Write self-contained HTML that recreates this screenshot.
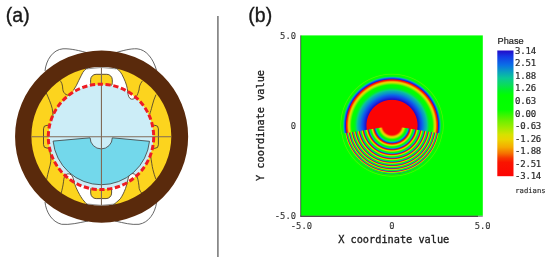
<!DOCTYPE html>
<html><head><meta charset="utf-8"><style>
html,body{margin:0;padding:0;background:#fff;width:550px;height:266px;overflow:hidden}
svg{display:block}
.sans{font-family:"Liberation Sans",Arial,sans-serif}
.mono{font-family:"DejaVu Sans Mono","Liberation Mono",monospace}
</style></head><body>
<svg width="550" height="266" viewBox="0 0 550 266">
<defs><radialGradient id="gU" gradientUnits="userSpaceOnUse" cx="392.00" cy="125.40" r="52.60"><stop offset="0.0000" stop-color="#fc0404"/><stop offset="0.4772" stop-color="#fc0404"/><stop offset="0.4791" stop-color="#e4051a"/><stop offset="0.4810" stop-color="#cc0530"/><stop offset="0.4829" stop-color="#b40646"/><stop offset="0.4848" stop-color="#9b075c"/><stop offset="0.4867" stop-color="#830972"/><stop offset="0.4886" stop-color="#6b0a88"/><stop offset="0.4905" stop-color="#520c9e"/><stop offset="0.4924" stop-color="#3a0db5"/><stop offset="0.4943" stop-color="#220fcb"/><stop offset="0.4962" stop-color="#2110cc"/><stop offset="0.4981" stop-color="#2112cd"/><stop offset="0.5000" stop-color="#2013ce"/><stop offset="0.5019" stop-color="#2015cf"/><stop offset="0.5038" stop-color="#1f17d0"/><stop offset="0.5057" stop-color="#1f19d1"/><stop offset="0.5076" stop-color="#1e1ad2"/><stop offset="0.5095" stop-color="#1d1cd3"/><stop offset="0.5114" stop-color="#1d1fd4"/><stop offset="0.5133" stop-color="#1c21d6"/><stop offset="0.5152" stop-color="#1c23d7"/><stop offset="0.5171" stop-color="#1b25d8"/><stop offset="0.5190" stop-color="#1a27d9"/><stop offset="0.5209" stop-color="#1a29db"/><stop offset="0.5228" stop-color="#192bdc"/><stop offset="0.5247" stop-color="#182ddd"/><stop offset="0.5266" stop-color="#182fde"/><stop offset="0.5285" stop-color="#1731e0"/><stop offset="0.5304" stop-color="#1734e1"/><stop offset="0.5323" stop-color="#1636e2"/><stop offset="0.5342" stop-color="#1538e3"/><stop offset="0.5361" stop-color="#153ae4"/><stop offset="0.5380" stop-color="#143ce5"/><stop offset="0.5399" stop-color="#143ee5"/><stop offset="0.5418" stop-color="#1340e6"/><stop offset="0.5437" stop-color="#1342e6"/><stop offset="0.5456" stop-color="#1244e6"/><stop offset="0.5475" stop-color="#1246e6"/><stop offset="0.5494" stop-color="#1248e6"/><stop offset="0.5513" stop-color="#114ae6"/><stop offset="0.5532" stop-color="#114ce6"/><stop offset="0.5551" stop-color="#104ee6"/><stop offset="0.5570" stop-color="#1050e6"/><stop offset="0.5589" stop-color="#1052e6"/><stop offset="0.5608" stop-color="#0f54e6"/><stop offset="0.5627" stop-color="#0f56e6"/><stop offset="0.5646" stop-color="#0e58e6"/><stop offset="0.5665" stop-color="#0e5ae6"/><stop offset="0.5684" stop-color="#0e5ce6"/><stop offset="0.5703" stop-color="#0d5ee6"/><stop offset="0.5722" stop-color="#0d60e6"/><stop offset="0.5741" stop-color="#0c62e6"/><stop offset="0.5760" stop-color="#0c64e6"/><stop offset="0.5779" stop-color="#0b67e6"/><stop offset="0.5798" stop-color="#0b69e6"/><stop offset="0.5817" stop-color="#0b6be5"/><stop offset="0.5837" stop-color="#0b6de5"/><stop offset="0.5856" stop-color="#0a6fe4"/><stop offset="0.5875" stop-color="#0a72e3"/><stop offset="0.5894" stop-color="#0a74e1"/><stop offset="0.5913" stop-color="#0a76e0"/><stop offset="0.5932" stop-color="#0a78de"/><stop offset="0.5951" stop-color="#0a7bdc"/><stop offset="0.5970" stop-color="#0a7dda"/><stop offset="0.5989" stop-color="#0a7fd8"/><stop offset="0.6008" stop-color="#0a82d6"/><stop offset="0.6027" stop-color="#0a84d4"/><stop offset="0.6046" stop-color="#0a87d2"/><stop offset="0.6065" stop-color="#0a89d0"/><stop offset="0.6084" stop-color="#0a8bcf"/><stop offset="0.6103" stop-color="#0a8dcd"/><stop offset="0.6122" stop-color="#0a8fcb"/><stop offset="0.6141" stop-color="#0a91ca"/><stop offset="0.6160" stop-color="#0a93c8"/><stop offset="0.6179" stop-color="#0a95c7"/><stop offset="0.6198" stop-color="#0a97c5"/><stop offset="0.6217" stop-color="#0a99c4"/><stop offset="0.6236" stop-color="#0a9bc2"/><stop offset="0.6255" stop-color="#0a9cc1"/><stop offset="0.6274" stop-color="#0a9ebf"/><stop offset="0.6293" stop-color="#0aa0be"/><stop offset="0.6312" stop-color="#0aa1bc"/><stop offset="0.6331" stop-color="#0aa3bb"/><stop offset="0.6350" stop-color="#0aa5b9"/><stop offset="0.6369" stop-color="#0aa6b8"/><stop offset="0.6388" stop-color="#0aa8b6"/><stop offset="0.6407" stop-color="#0aaab4"/><stop offset="0.6426" stop-color="#0aabb3"/><stop offset="0.6445" stop-color="#0aadb1"/><stop offset="0.6464" stop-color="#0aaeb0"/><stop offset="0.6483" stop-color="#0ab0ae"/><stop offset="0.6502" stop-color="#0ab2ac"/><stop offset="0.6521" stop-color="#0ab3ab"/><stop offset="0.6540" stop-color="#0ab6a8"/><stop offset="0.6559" stop-color="#0ab8a6"/><stop offset="0.6578" stop-color="#0abba3"/><stop offset="0.6597" stop-color="#0abda0"/><stop offset="0.6616" stop-color="#0ac09c"/><stop offset="0.6635" stop-color="#0ac398"/><stop offset="0.6654" stop-color="#0ac693"/><stop offset="0.6673" stop-color="#0ac98e"/><stop offset="0.6692" stop-color="#0acb89"/><stop offset="0.6711" stop-color="#0ace83"/><stop offset="0.6730" stop-color="#0ad07e"/><stop offset="0.6749" stop-color="#0ad278"/><stop offset="0.6768" stop-color="#0ad472"/><stop offset="0.6787" stop-color="#0ad66d"/><stop offset="0.6806" stop-color="#0ad867"/><stop offset="0.6825" stop-color="#09da61"/><stop offset="0.6844" stop-color="#09dc5a"/><stop offset="0.6863" stop-color="#08df54"/><stop offset="0.6882" stop-color="#07e14e"/><stop offset="0.6901" stop-color="#06e349"/><stop offset="0.6920" stop-color="#05e543"/><stop offset="0.6939" stop-color="#04e73e"/><stop offset="0.6958" stop-color="#03e939"/><stop offset="0.6977" stop-color="#02eb34"/><stop offset="0.6996" stop-color="#02ed30"/><stop offset="0.7015" stop-color="#01ee2c"/><stop offset="0.7034" stop-color="#01ef29"/><stop offset="0.7053" stop-color="#00f125"/><stop offset="0.7072" stop-color="#00f222"/><stop offset="0.7091" stop-color="#00f31f"/><stop offset="0.7110" stop-color="#00f41c"/><stop offset="0.7129" stop-color="#00f619"/><stop offset="0.7148" stop-color="#00f716"/><stop offset="0.7167" stop-color="#00f813"/><stop offset="0.7186" stop-color="#00f910"/><stop offset="0.7205" stop-color="#00fa0d"/><stop offset="0.7224" stop-color="#00fb0a"/><stop offset="0.7243" stop-color="#00fc08"/><stop offset="0.7262" stop-color="#00fd06"/><stop offset="0.7281" stop-color="#00fe04"/><stop offset="0.7300" stop-color="#00fe02"/><stop offset="0.7319" stop-color="#00ff01"/><stop offset="0.7338" stop-color="#00ff01"/><stop offset="0.7357" stop-color="#01ff00"/><stop offset="0.7414" stop-color="#01ff00"/><stop offset="0.7433" stop-color="#02ff00"/><stop offset="0.7490" stop-color="#02ff00"/><stop offset="0.7510" stop-color="#03ff00"/><stop offset="0.7567" stop-color="#03ff00"/><stop offset="0.7586" stop-color="#04ff00"/><stop offset="0.7624" stop-color="#04ff00"/><stop offset="0.7643" stop-color="#06ff00"/><stop offset="0.7662" stop-color="#08fe00"/><stop offset="0.7681" stop-color="#0cfe00"/><stop offset="0.7700" stop-color="#11fd00"/><stop offset="0.7719" stop-color="#17fc00"/><stop offset="0.7738" stop-color="#1efb00"/><stop offset="0.7757" stop-color="#26fa00"/><stop offset="0.7776" stop-color="#2ff800"/><stop offset="0.7795" stop-color="#3af700"/><stop offset="0.7814" stop-color="#44f500"/><stop offset="0.7833" stop-color="#4ef400"/><stop offset="0.7852" stop-color="#58f200"/><stop offset="0.7871" stop-color="#61f100"/><stop offset="0.7890" stop-color="#6af000"/><stop offset="0.7909" stop-color="#73ef00"/><stop offset="0.7928" stop-color="#7bee00"/><stop offset="0.7947" stop-color="#84ed00"/><stop offset="0.7966" stop-color="#8cec00"/><stop offset="0.7985" stop-color="#94ec00"/><stop offset="0.8004" stop-color="#9ceb00"/><stop offset="0.8023" stop-color="#a4e900"/><stop offset="0.8042" stop-color="#ace800"/><stop offset="0.8061" stop-color="#b5e700"/><stop offset="0.8080" stop-color="#bde500"/><stop offset="0.8099" stop-color="#c5e400"/><stop offset="0.8118" stop-color="#cce200"/><stop offset="0.8137" stop-color="#d3df00"/><stop offset="0.8156" stop-color="#d9dd00"/><stop offset="0.8175" stop-color="#deda00"/><stop offset="0.8194" stop-color="#e3d600"/><stop offset="0.8213" stop-color="#e7d200"/><stop offset="0.8232" stop-color="#eacd00"/><stop offset="0.8251" stop-color="#ecc800"/><stop offset="0.8270" stop-color="#efc200"/><stop offset="0.8289" stop-color="#f0bc00"/><stop offset="0.8308" stop-color="#f2b500"/><stop offset="0.8327" stop-color="#f3ad00"/><stop offset="0.8346" stop-color="#f3a400"/><stop offset="0.8365" stop-color="#f49b00"/><stop offset="0.8384" stop-color="#f59100"/><stop offset="0.8403" stop-color="#f58700"/><stop offset="0.8422" stop-color="#f57b00"/><stop offset="0.8441" stop-color="#f56e00"/><stop offset="0.8460" stop-color="#f56200"/><stop offset="0.8479" stop-color="#f65600"/><stop offset="0.8498" stop-color="#f64a00"/><stop offset="0.8517" stop-color="#f73e00"/><stop offset="0.8536" stop-color="#f73400"/><stop offset="0.8555" stop-color="#f82b00"/><stop offset="0.8574" stop-color="#f92300"/><stop offset="0.8593" stop-color="#f91c00"/><stop offset="0.8612" stop-color="#fa1701"/><stop offset="0.8631" stop-color="#fa1301"/><stop offset="0.8650" stop-color="#fb1001"/><stop offset="0.8669" stop-color="#fb0d02"/><stop offset="0.8688" stop-color="#e30c18"/><stop offset="0.8707" stop-color="#cb0c2f"/><stop offset="0.8726" stop-color="#b30c46"/><stop offset="0.8745" stop-color="#9a0e5d"/><stop offset="0.8764" stop-color="#811075"/><stop offset="0.8783" stop-color="#68148d"/><stop offset="0.8802" stop-color="#4f18a5"/><stop offset="0.8821" stop-color="#351dbe"/><stop offset="0.8840" stop-color="#1b23d7"/><stop offset="0.8859" stop-color="#1a2ada"/><stop offset="0.8878" stop-color="#1830dd"/><stop offset="0.8897" stop-color="#1637e0"/><stop offset="0.8916" stop-color="#143ee2"/><stop offset="0.8935" stop-color="#1346e4"/><stop offset="0.8954" stop-color="#114ee5"/><stop offset="0.8973" stop-color="#0f56e5"/><stop offset="0.8992" stop-color="#0e5ee3"/><stop offset="0.9011" stop-color="#0d67e1"/><stop offset="0.9030" stop-color="#0c70dd"/><stop offset="0.9049" stop-color="#0b79d9"/><stop offset="0.9068" stop-color="#0b83d3"/><stop offset="0.9087" stop-color="#0a8dcb"/><stop offset="0.9106" stop-color="#0a98c3"/><stop offset="0.9125" stop-color="#0aa2b8"/><stop offset="0.9144" stop-color="#0aadad"/><stop offset="0.9163" stop-color="#0ab6a0"/><stop offset="0.9183" stop-color="#0ac092"/><stop offset="0.9202" stop-color="#09c983"/><stop offset="0.9221" stop-color="#08d172"/><stop offset="0.9240" stop-color="#07da61"/><stop offset="0.9259" stop-color="#06e051"/><stop offset="0.9278" stop-color="#05e642"/><stop offset="0.9297" stop-color="#04eb34"/><stop offset="0.9316" stop-color="#02f028"/><stop offset="0.9335" stop-color="#01f41d"/><stop offset="0.9354" stop-color="#00f714"/><stop offset="0.9373" stop-color="#00fa0e"/><stop offset="0.9392" stop-color="#00fc09"/><stop offset="0.9411" stop-color="#00fd06"/><stop offset="0.9430" stop-color="#00fe04"/><stop offset="0.9449" stop-color="#00fe02"/><stop offset="0.9468" stop-color="#01ff01"/><stop offset="0.9487" stop-color="#01ff00"/><stop offset="0.9525" stop-color="#01ff00"/><stop offset="0.9544" stop-color="#02ff00"/><stop offset="0.9563" stop-color="#02ff00"/><stop offset="0.9582" stop-color="#05ff00"/><stop offset="0.9601" stop-color="#09fe00"/><stop offset="0.9620" stop-color="#11fd00"/><stop offset="0.9639" stop-color="#1bfb00"/><stop offset="0.9658" stop-color="#26fa00"/><stop offset="0.9677" stop-color="#30f800"/><stop offset="0.9696" stop-color="#38f700"/><stop offset="0.9715" stop-color="#3ef600"/><stop offset="0.9734" stop-color="#41f600"/><stop offset="0.9753" stop-color="#40f600"/><stop offset="0.9772" stop-color="#3bf700"/><stop offset="0.9791" stop-color="#34f800"/><stop offset="0.9810" stop-color="#2bf900"/><stop offset="0.9829" stop-color="#1ffb00"/><stop offset="0.9848" stop-color="#15fc00"/><stop offset="0.9867" stop-color="#0dfe00"/><stop offset="0.9886" stop-color="#07fe00"/><stop offset="0.9905" stop-color="#04ff00"/><stop offset="0.9924" stop-color="#03ff00"/><stop offset="0.9943" stop-color="#02ff00"/><stop offset="1.0000" stop-color="#02ff00"/></radialGradient><radialGradient id="gL" gradientUnits="userSpaceOnUse" cx="392.00" cy="125.40" r="50.50"><stop offset="0.0000" stop-color="#fc0404"/><stop offset="0.1774" stop-color="#fc0404"/><stop offset="0.1790" stop-color="#fc0604"/><stop offset="0.1806" stop-color="#fc0803"/><stop offset="0.1822" stop-color="#fb0a03"/><stop offset="0.1838" stop-color="#fb0b03"/><stop offset="0.1853" stop-color="#fb0f02"/><stop offset="0.1869" stop-color="#fa1302"/><stop offset="0.1885" stop-color="#fa1701"/><stop offset="0.1901" stop-color="#f91d01"/><stop offset="0.1917" stop-color="#f92101"/><stop offset="0.1933" stop-color="#f82800"/><stop offset="0.1949" stop-color="#f73000"/><stop offset="0.1964" stop-color="#f73700"/><stop offset="0.1980" stop-color="#f63f00"/><stop offset="0.1996" stop-color="#f64700"/><stop offset="0.2012" stop-color="#f65000"/><stop offset="0.2028" stop-color="#f65800"/><stop offset="0.2044" stop-color="#f56100"/><stop offset="0.2059" stop-color="#f56900"/><stop offset="0.2075" stop-color="#f57200"/><stop offset="0.2091" stop-color="#f57b00"/><stop offset="0.2107" stop-color="#f58300"/><stop offset="0.2123" stop-color="#f58b00"/><stop offset="0.2139" stop-color="#f59300"/><stop offset="0.2154" stop-color="#f49a00"/><stop offset="0.2170" stop-color="#f4a100"/><stop offset="0.2186" stop-color="#f3a700"/><stop offset="0.2202" stop-color="#f3ae00"/><stop offset="0.2218" stop-color="#f2b400"/><stop offset="0.2234" stop-color="#f1b900"/><stop offset="0.2250" stop-color="#f0bf00"/><stop offset="0.2265" stop-color="#eec300"/><stop offset="0.2281" stop-color="#ecc800"/><stop offset="0.2297" stop-color="#eacc00"/><stop offset="0.2313" stop-color="#e8cf00"/><stop offset="0.2329" stop-color="#e5d300"/><stop offset="0.2345" stop-color="#e2d600"/><stop offset="0.2360" stop-color="#deda00"/><stop offset="0.2376" stop-color="#dadc00"/><stop offset="0.2392" stop-color="#d5de00"/><stop offset="0.2408" stop-color="#cfe000"/><stop offset="0.2424" stop-color="#c9e200"/><stop offset="0.2440" stop-color="#c3e400"/><stop offset="0.2455" stop-color="#bce500"/><stop offset="0.2471" stop-color="#b5e700"/><stop offset="0.2487" stop-color="#aee800"/><stop offset="0.2503" stop-color="#a6e900"/><stop offset="0.2519" stop-color="#9fea00"/><stop offset="0.2535" stop-color="#97eb00"/><stop offset="0.2550" stop-color="#90ec00"/><stop offset="0.2566" stop-color="#88ed00"/><stop offset="0.2582" stop-color="#80ee00"/><stop offset="0.2598" stop-color="#78ee00"/><stop offset="0.2614" stop-color="#70f000"/><stop offset="0.2630" stop-color="#68f100"/><stop offset="0.2646" stop-color="#5ff100"/><stop offset="0.2661" stop-color="#56f300"/><stop offset="0.2677" stop-color="#4df400"/><stop offset="0.2693" stop-color="#43f500"/><stop offset="0.2709" stop-color="#3af700"/><stop offset="0.2725" stop-color="#31f800"/><stop offset="0.2741" stop-color="#28fa00"/><stop offset="0.2756" stop-color="#21fa00"/><stop offset="0.2772" stop-color="#1afc00"/><stop offset="0.2788" stop-color="#14fd00"/><stop offset="0.2804" stop-color="#0ffd00"/><stop offset="0.2820" stop-color="#0bfe00"/><stop offset="0.2836" stop-color="#07fe00"/><stop offset="0.2851" stop-color="#05ff00"/><stop offset="0.2867" stop-color="#03ff00"/><stop offset="0.2883" stop-color="#03ff00"/><stop offset="0.2899" stop-color="#02ff00"/><stop offset="0.2915" stop-color="#02ff00"/><stop offset="0.2931" stop-color="#02ff01"/><stop offset="0.2947" stop-color="#01fe03"/><stop offset="0.2962" stop-color="#01fd06"/><stop offset="0.2978" stop-color="#01fb09"/><stop offset="0.2994" stop-color="#01fa0e"/><stop offset="0.3010" stop-color="#01f813"/><stop offset="0.3026" stop-color="#02f51a"/><stop offset="0.3042" stop-color="#02f222"/><stop offset="0.3057" stop-color="#03ef2b"/><stop offset="0.3073" stop-color="#04eb35"/><stop offset="0.3089" stop-color="#05e73f"/><stop offset="0.3105" stop-color="#06e34a"/><stop offset="0.3121" stop-color="#06de55"/><stop offset="0.3137" stop-color="#08db60"/><stop offset="0.3152" stop-color="#08d66b"/><stop offset="0.3168" stop-color="#09d176"/><stop offset="0.3184" stop-color="#0acc81"/><stop offset="0.3200" stop-color="#0ac68b"/><stop offset="0.3216" stop-color="#0ac094"/><stop offset="0.3232" stop-color="#0aba9d"/><stop offset="0.3248" stop-color="#0ab3a6"/><stop offset="0.3263" stop-color="#0aacaf"/><stop offset="0.3279" stop-color="#0aa4b7"/><stop offset="0.3295" stop-color="#0a9cc0"/><stop offset="0.3311" stop-color="#0a93c6"/><stop offset="0.3327" stop-color="#0a8acd"/><stop offset="0.3343" stop-color="#0b81d2"/><stop offset="0.3358" stop-color="#0c78d7"/><stop offset="0.3374" stop-color="#0c70dc"/><stop offset="0.3390" stop-color="#0d67df"/><stop offset="0.3406" stop-color="#0e5ee1"/><stop offset="0.3422" stop-color="#1055e2"/><stop offset="0.3438" stop-color="#124ce1"/><stop offset="0.3453" stop-color="#1442e0"/><stop offset="0.3469" stop-color="#2e39c8"/><stop offset="0.3485" stop-color="#4830af"/><stop offset="0.3501" stop-color="#4a29ac"/><stop offset="0.3517" stop-color="#642294"/><stop offset="0.3533" stop-color="#7e1c7b"/><stop offset="0.3549" stop-color="#971762"/><stop offset="0.3564" stop-color="#b1124a"/><stop offset="0.3580" stop-color="#b21047"/><stop offset="0.3596" stop-color="#ca0e30"/><stop offset="0.3612" stop-color="#e30d18"/><stop offset="0.3628" stop-color="#fb0e02"/><stop offset="0.3644" stop-color="#fa1101"/><stop offset="0.3659" stop-color="#fa1501"/><stop offset="0.3675" stop-color="#f91b01"/><stop offset="0.3691" stop-color="#f92101"/><stop offset="0.3707" stop-color="#f82a00"/><stop offset="0.3723" stop-color="#f83400"/><stop offset="0.3739" stop-color="#f73f00"/><stop offset="0.3754" stop-color="#f74b00"/><stop offset="0.3770" stop-color="#f65800"/><stop offset="0.3786" stop-color="#f66600"/><stop offset="0.3802" stop-color="#f57400"/><stop offset="0.3818" stop-color="#f48200"/><stop offset="0.3834" stop-color="#f48f00"/><stop offset="0.3850" stop-color="#f39c00"/><stop offset="0.3865" stop-color="#f1a800"/><stop offset="0.3881" stop-color="#efb200"/><stop offset="0.3897" stop-color="#edbb00"/><stop offset="0.3913" stop-color="#eac400"/><stop offset="0.3929" stop-color="#e5cb00"/><stop offset="0.3945" stop-color="#e0d100"/><stop offset="0.3960" stop-color="#d9d600"/><stop offset="0.3976" stop-color="#d2db00"/><stop offset="0.3992" stop-color="#cadf00"/><stop offset="0.4008" stop-color="#c1e200"/><stop offset="0.4024" stop-color="#b6e500"/><stop offset="0.4040" stop-color="#ace700"/><stop offset="0.4055" stop-color="#a0e900"/><stop offset="0.4071" stop-color="#94eb00"/><stop offset="0.4087" stop-color="#87ed00"/><stop offset="0.4103" stop-color="#7aee00"/><stop offset="0.4119" stop-color="#6df000"/><stop offset="0.4135" stop-color="#5ff200"/><stop offset="0.4150" stop-color="#51f400"/><stop offset="0.4166" stop-color="#45f500"/><stop offset="0.4182" stop-color="#39f700"/><stop offset="0.4198" stop-color="#2ef900"/><stop offset="0.4214" stop-color="#24fa00"/><stop offset="0.4230" stop-color="#1bfb00"/><stop offset="0.4246" stop-color="#14fd00"/><stop offset="0.4261" stop-color="#0dfd00"/><stop offset="0.4277" stop-color="#08fe00"/><stop offset="0.4293" stop-color="#05fe00"/><stop offset="0.4309" stop-color="#02fe02"/><stop offset="0.4325" stop-color="#02fd05"/><stop offset="0.4341" stop-color="#01fb0a"/><stop offset="0.4356" stop-color="#02f910"/><stop offset="0.4372" stop-color="#02f617"/><stop offset="0.4388" stop-color="#03f320"/><stop offset="0.4404" stop-color="#04ef2a"/><stop offset="0.4420" stop-color="#04eb36"/><stop offset="0.4436" stop-color="#05e643"/><stop offset="0.4451" stop-color="#06e051"/><stop offset="0.4467" stop-color="#07da5f"/><stop offset="0.4483" stop-color="#08d36e"/><stop offset="0.4499" stop-color="#09cb7d"/><stop offset="0.4515" stop-color="#09c38b"/><stop offset="0.4531" stop-color="#0aba98"/><stop offset="0.4547" stop-color="#0ab0a5"/><stop offset="0.4562" stop-color="#0aa6b1"/><stop offset="0.4578" stop-color="#0a9cbc"/><stop offset="0.4594" stop-color="#0b90c5"/><stop offset="0.4610" stop-color="#0c85cc"/><stop offset="0.4626" stop-color="#0c79d3"/><stop offset="0.4642" stop-color="#0e6dd8"/><stop offset="0.4657" stop-color="#0f60db"/><stop offset="0.4673" stop-color="#1153dc"/><stop offset="0.4689" stop-color="#2c46c6"/><stop offset="0.4705" stop-color="#463baf"/><stop offset="0.4721" stop-color="#4832ad"/><stop offset="0.4737" stop-color="#632995"/><stop offset="0.4752" stop-color="#7c227c"/><stop offset="0.4768" stop-color="#961b64"/><stop offset="0.4784" stop-color="#b0164b"/><stop offset="0.4800" stop-color="#b11347"/><stop offset="0.4816" stop-color="#ca122f"/><stop offset="0.4832" stop-color="#e21418"/><stop offset="0.4848" stop-color="#fa1901"/><stop offset="0.4863" stop-color="#f92201"/><stop offset="0.4879" stop-color="#f82d01"/><stop offset="0.4895" stop-color="#f83800"/><stop offset="0.4911" stop-color="#f74600"/><stop offset="0.4927" stop-color="#f75500"/><stop offset="0.4943" stop-color="#f66400"/><stop offset="0.4958" stop-color="#f57400"/><stop offset="0.4974" stop-color="#f48400"/><stop offset="0.4990" stop-color="#f29400"/><stop offset="0.5006" stop-color="#f0a300"/><stop offset="0.5022" stop-color="#edb100"/><stop offset="0.5038" stop-color="#e8bd00"/><stop offset="0.5053" stop-color="#e2c600"/><stop offset="0.5069" stop-color="#dbcf00"/><stop offset="0.5085" stop-color="#d2d600"/><stop offset="0.5101" stop-color="#c9dc00"/><stop offset="0.5117" stop-color="#bee000"/><stop offset="0.5133" stop-color="#b1e400"/><stop offset="0.5149" stop-color="#a4e700"/><stop offset="0.5164" stop-color="#95ea00"/><stop offset="0.5180" stop-color="#85ed00"/><stop offset="0.5196" stop-color="#75ef00"/><stop offset="0.5212" stop-color="#63f200"/><stop offset="0.5228" stop-color="#54f400"/><stop offset="0.5244" stop-color="#45f600"/><stop offset="0.5259" stop-color="#38f700"/><stop offset="0.5275" stop-color="#2cf900"/><stop offset="0.5291" stop-color="#21fb00"/><stop offset="0.5307" stop-color="#18fc00"/><stop offset="0.5323" stop-color="#10fd00"/><stop offset="0.5339" stop-color="#0afd02"/><stop offset="0.5354" stop-color="#05fd05"/><stop offset="0.5370" stop-color="#03fb0a"/><stop offset="0.5386" stop-color="#02f911"/><stop offset="0.5402" stop-color="#03f519"/><stop offset="0.5418" stop-color="#03f124"/><stop offset="0.5434" stop-color="#04ed30"/><stop offset="0.5450" stop-color="#05e83d"/><stop offset="0.5465" stop-color="#05e24c"/><stop offset="0.5481" stop-color="#06da5c"/><stop offset="0.5497" stop-color="#07d16d"/><stop offset="0.5513" stop-color="#08c77e"/><stop offset="0.5529" stop-color="#09bc8f"/><stop offset="0.5545" stop-color="#0ab19f"/><stop offset="0.5560" stop-color="#0aa5ad"/><stop offset="0.5576" stop-color="#0b99b9"/><stop offset="0.5592" stop-color="#0c8cc4"/><stop offset="0.5608" stop-color="#0d7ecd"/><stop offset="0.5624" stop-color="#0e6fd3"/><stop offset="0.5640" stop-color="#1060d6"/><stop offset="0.5655" stop-color="#2b51c2"/><stop offset="0.5671" stop-color="#4543ad"/><stop offset="0.5687" stop-color="#5f3797"/><stop offset="0.5703" stop-color="#612e95"/><stop offset="0.5719" stop-color="#7c267d"/><stop offset="0.5735" stop-color="#961e64"/><stop offset="0.5750" stop-color="#af194b"/><stop offset="0.5766" stop-color="#c81732"/><stop offset="0.5782" stop-color="#c91a2f"/><stop offset="0.5798" stop-color="#e12018"/><stop offset="0.5814" stop-color="#f92901"/><stop offset="0.5830" stop-color="#f83601"/><stop offset="0.5846" stop-color="#f84500"/><stop offset="0.5861" stop-color="#f75400"/><stop offset="0.5877" stop-color="#f66400"/><stop offset="0.5893" stop-color="#f47600"/><stop offset="0.5909" stop-color="#f28700"/><stop offset="0.5925" stop-color="#ef9900"/><stop offset="0.5941" stop-color="#eba900"/><stop offset="0.5956" stop-color="#e6b800"/><stop offset="0.5972" stop-color="#dfc400"/><stop offset="0.5988" stop-color="#d6ce00"/><stop offset="0.6004" stop-color="#cbd600"/><stop offset="0.6020" stop-color="#bfdd00"/><stop offset="0.6036" stop-color="#b2e200"/><stop offset="0.6051" stop-color="#a2e700"/><stop offset="0.6067" stop-color="#92ea00"/><stop offset="0.6083" stop-color="#7fee00"/><stop offset="0.6099" stop-color="#6bf000"/><stop offset="0.6115" stop-color="#5af300"/><stop offset="0.6131" stop-color="#49f500"/><stop offset="0.6147" stop-color="#3bf700"/><stop offset="0.6162" stop-color="#2ef900"/><stop offset="0.6178" stop-color="#22fa00"/><stop offset="0.6194" stop-color="#18fc01"/><stop offset="0.6210" stop-color="#0ffc03"/><stop offset="0.6226" stop-color="#09fb07"/><stop offset="0.6242" stop-color="#05f90e"/><stop offset="0.6257" stop-color="#03f616"/><stop offset="0.6273" stop-color="#04f221"/><stop offset="0.6289" stop-color="#04ee2d"/><stop offset="0.6305" stop-color="#05e83b"/><stop offset="0.6321" stop-color="#05e14b"/><stop offset="0.6337" stop-color="#06d95c"/><stop offset="0.6352" stop-color="#07ce6e"/><stop offset="0.6368" stop-color="#08c381"/><stop offset="0.6384" stop-color="#09b694"/><stop offset="0.6400" stop-color="#0aa9a5"/><stop offset="0.6416" stop-color="#0b9bb3"/><stop offset="0.6432" stop-color="#0c8dc0"/><stop offset="0.6448" stop-color="#0d7dc9"/><stop offset="0.6463" stop-color="#106ccf"/><stop offset="0.6479" stop-color="#2a5bbd"/><stop offset="0.6495" stop-color="#444caa"/><stop offset="0.6511" stop-color="#5f3e95"/><stop offset="0.6527" stop-color="#613394"/><stop offset="0.6543" stop-color="#7b2a7d"/><stop offset="0.6558" stop-color="#952264"/><stop offset="0.6574" stop-color="#ae1e4b"/><stop offset="0.6590" stop-color="#c81d33"/><stop offset="0.6606" stop-color="#c8232f"/><stop offset="0.6622" stop-color="#e12a18"/><stop offset="0.6638" stop-color="#f83701"/><stop offset="0.6653" stop-color="#f84601"/><stop offset="0.6669" stop-color="#f75700"/><stop offset="0.6685" stop-color="#f56900"/><stop offset="0.6701" stop-color="#f37a00"/><stop offset="0.6717" stop-color="#f08d00"/><stop offset="0.6733" stop-color="#eb9f00"/><stop offset="0.6749" stop-color="#e5b000"/><stop offset="0.6764" stop-color="#ddbf00"/><stop offset="0.6780" stop-color="#d3cb00"/><stop offset="0.6796" stop-color="#c7d500"/><stop offset="0.6812" stop-color="#badc00"/><stop offset="0.6828" stop-color="#aae300"/><stop offset="0.6844" stop-color="#98e800"/><stop offset="0.6859" stop-color="#85ec00"/><stop offset="0.6875" stop-color="#70f000"/><stop offset="0.6891" stop-color="#5df300"/><stop offset="0.6907" stop-color="#4bf500"/><stop offset="0.6923" stop-color="#3bf700"/><stop offset="0.6939" stop-color="#2ef900"/><stop offset="0.6954" stop-color="#21fa01"/><stop offset="0.6970" stop-color="#17fb03"/><stop offset="0.6986" stop-color="#0efa08"/><stop offset="0.7002" stop-color="#08f80f"/><stop offset="0.7018" stop-color="#05f519"/><stop offset="0.7034" stop-color="#04f125"/><stop offset="0.7050" stop-color="#05ec32"/><stop offset="0.7065" stop-color="#05e542"/><stop offset="0.7081" stop-color="#06dc53"/><stop offset="0.7097" stop-color="#06d265"/><stop offset="0.7113" stop-color="#07c679"/><stop offset="0.7129" stop-color="#08b88d"/><stop offset="0.7145" stop-color="#0aaaa0"/><stop offset="0.7160" stop-color="#0b9ab0"/><stop offset="0.7176" stop-color="#0d8abd"/><stop offset="0.7192" stop-color="#0f79c6"/><stop offset="0.7208" stop-color="#2967b7"/><stop offset="0.7224" stop-color="#4356a5"/><stop offset="0.7240" stop-color="#4647a8"/><stop offset="0.7255" stop-color="#603a93"/><stop offset="0.7271" stop-color="#7a2f7d"/><stop offset="0.7287" stop-color="#942765"/><stop offset="0.7303" stop-color="#ad234c"/><stop offset="0.7319" stop-color="#af2449"/><stop offset="0.7335" stop-color="#c82930"/><stop offset="0.7350" stop-color="#e03318"/><stop offset="0.7366" stop-color="#f84001"/><stop offset="0.7382" stop-color="#f75101"/><stop offset="0.7398" stop-color="#f56300"/><stop offset="0.7414" stop-color="#f37500"/><stop offset="0.7430" stop-color="#ef8900"/><stop offset="0.7446" stop-color="#e99b00"/><stop offset="0.7461" stop-color="#e2ae00"/><stop offset="0.7477" stop-color="#d8be00"/><stop offset="0.7493" stop-color="#cdcb00"/><stop offset="0.7509" stop-color="#c0d600"/><stop offset="0.7525" stop-color="#b0de00"/><stop offset="0.7541" stop-color="#9ee500"/><stop offset="0.7556" stop-color="#89ea00"/><stop offset="0.7572" stop-color="#75ef00"/><stop offset="0.7588" stop-color="#61f200"/><stop offset="0.7604" stop-color="#4ef500"/><stop offset="0.7620" stop-color="#3cf700"/><stop offset="0.7636" stop-color="#2ef900"/><stop offset="0.7651" stop-color="#21fa02"/><stop offset="0.7667" stop-color="#17f907"/><stop offset="0.7683" stop-color="#0ef80e"/><stop offset="0.7699" stop-color="#08f518"/><stop offset="0.7715" stop-color="#05f124"/><stop offset="0.7731" stop-color="#05ec32"/><stop offset="0.7747" stop-color="#05e443"/><stop offset="0.7762" stop-color="#06db54"/><stop offset="0.7778" stop-color="#06d067"/><stop offset="0.7794" stop-color="#07c27b"/><stop offset="0.7810" stop-color="#09b390"/><stop offset="0.7826" stop-color="#0aa3a3"/><stop offset="0.7842" stop-color="#0c92b2"/><stop offset="0.7857" stop-color="#0e80be"/><stop offset="0.7873" stop-color="#296db1"/><stop offset="0.7889" stop-color="#435ba2"/><stop offset="0.7905" stop-color="#454ba5"/><stop offset="0.7921" stop-color="#5f3e91"/><stop offset="0.7937" stop-color="#7a327c"/><stop offset="0.7952" stop-color="#932a65"/><stop offset="0.7968" stop-color="#ad284c"/><stop offset="0.7984" stop-color="#ae2b49"/><stop offset="0.8000" stop-color="#c73230"/><stop offset="0.8016" stop-color="#e03d18"/><stop offset="0.8032" stop-color="#f74c01"/><stop offset="0.8048" stop-color="#f65e01"/><stop offset="0.8063" stop-color="#f37100"/><stop offset="0.8079" stop-color="#ef8400"/><stop offset="0.8095" stop-color="#e89700"/><stop offset="0.8111" stop-color="#e0ab00"/><stop offset="0.8127" stop-color="#d5bc00"/><stop offset="0.8143" stop-color="#c9ca00"/><stop offset="0.8158" stop-color="#b9d600"/><stop offset="0.8174" stop-color="#a8df00"/><stop offset="0.8190" stop-color="#93e600"/><stop offset="0.8206" stop-color="#7eec00"/><stop offset="0.8222" stop-color="#6af000"/><stop offset="0.8238" stop-color="#55f300"/><stop offset="0.8253" stop-color="#43f600"/><stop offset="0.8269" stop-color="#33f800"/><stop offset="0.8285" stop-color="#25f903"/><stop offset="0.8301" stop-color="#19f809"/><stop offset="0.8317" stop-color="#10f612"/><stop offset="0.8333" stop-color="#0af31d"/><stop offset="0.8349" stop-color="#06ef2b"/><stop offset="0.8364" stop-color="#05e83a"/><stop offset="0.8380" stop-color="#05df4b"/><stop offset="0.8396" stop-color="#06d45f"/><stop offset="0.8412" stop-color="#07c673"/><stop offset="0.8428" stop-color="#08b887"/><stop offset="0.8444" stop-color="#0aa79b"/><stop offset="0.8459" stop-color="#0c95ac"/><stop offset="0.8475" stop-color="#0f81ba"/><stop offset="0.8491" stop-color="#296eae"/><stop offset="0.8507" stop-color="#435c9f"/><stop offset="0.8523" stop-color="#5e4c8d"/><stop offset="0.8539" stop-color="#603d90"/><stop offset="0.8554" stop-color="#7a337b"/><stop offset="0.8570" stop-color="#932e64"/><stop offset="0.8586" stop-color="#ad2e4b"/><stop offset="0.8602" stop-color="#c63232"/><stop offset="0.8618" stop-color="#c73c2f"/><stop offset="0.8634" stop-color="#df4a17"/><stop offset="0.8650" stop-color="#f65b01"/><stop offset="0.8665" stop-color="#f36e00"/><stop offset="0.8681" stop-color="#ee8100"/><stop offset="0.8697" stop-color="#e79500"/><stop offset="0.8713" stop-color="#dda900"/><stop offset="0.8729" stop-color="#d2bb00"/><stop offset="0.8745" stop-color="#c3ca00"/><stop offset="0.8760" stop-color="#b3d700"/><stop offset="0.8776" stop-color="#9fe100"/><stop offset="0.8792" stop-color="#8ae800"/><stop offset="0.8808" stop-color="#74ee00"/><stop offset="0.8824" stop-color="#60f200"/><stop offset="0.8840" stop-color="#4cf500"/><stop offset="0.8855" stop-color="#3af701"/><stop offset="0.8871" stop-color="#2bf804"/><stop offset="0.8887" stop-color="#1df70a"/><stop offset="0.8903" stop-color="#14f514"/><stop offset="0.8919" stop-color="#0cf220"/><stop offset="0.8935" stop-color="#07ed2e"/><stop offset="0.8950" stop-color="#05e53e"/><stop offset="0.8966" stop-color="#06db51"/><stop offset="0.8982" stop-color="#06cf65"/><stop offset="0.8998" stop-color="#07c079"/><stop offset="0.9014" stop-color="#09b08d"/><stop offset="0.9030" stop-color="#0b9da1"/><stop offset="0.9046" stop-color="#0e89b1"/><stop offset="0.9061" stop-color="#2975a7"/><stop offset="0.9077" stop-color="#43639a"/><stop offset="0.9093" stop-color="#5d518a"/><stop offset="0.9109" stop-color="#5f428e"/><stop offset="0.9125" stop-color="#79377a"/><stop offset="0.9141" stop-color="#933264"/><stop offset="0.9156" stop-color="#ac324c"/><stop offset="0.9172" stop-color="#c63733"/><stop offset="0.9188" stop-color="#c74230"/><stop offset="0.9204" stop-color="#de5017"/><stop offset="0.9220" stop-color="#f46101"/><stop offset="0.9236" stop-color="#f07500"/><stop offset="0.9251" stop-color="#ea8800"/><stop offset="0.9267" stop-color="#e19c00"/><stop offset="0.9283" stop-color="#d5b000"/><stop offset="0.9299" stop-color="#c7c200"/><stop offset="0.9315" stop-color="#b7d100"/><stop offset="0.9331" stop-color="#a3dd00"/><stop offset="0.9347" stop-color="#8de600"/><stop offset="0.9362" stop-color="#77ec00"/><stop offset="0.9378" stop-color="#62f100"/><stop offset="0.9394" stop-color="#4ff400"/><stop offset="0.9410" stop-color="#3cf601"/><stop offset="0.9426" stop-color="#2bf705"/><stop offset="0.9442" stop-color="#1ef70b"/><stop offset="0.9457" stop-color="#14f514"/><stop offset="0.9473" stop-color="#0cf21f"/><stop offset="0.9489" stop-color="#07ed2b"/><stop offset="0.9505" stop-color="#04e737"/><stop offset="0.9521" stop-color="#05df45"/><stop offset="0.9537" stop-color="#05d553"/><stop offset="0.9552" stop-color="#06cb60"/><stop offset="0.9568" stop-color="#07bf6c"/><stop offset="0.9584" stop-color="#09b476"/><stop offset="0.9600" stop-color="#18a870"/><stop offset="0.9616" stop-color="#269f68"/><stop offset="0.9632" stop-color="#33985d"/><stop offset="0.9648" stop-color="#32925d"/><stop offset="0.9663" stop-color="#3e8f4f"/><stop offset="0.9679" stop-color="#499040"/><stop offset="0.9695" stop-color="#539430"/><stop offset="0.9711" stop-color="#5e9b20"/><stop offset="0.9727" stop-color="#59a31c"/><stop offset="0.9743" stop-color="#60ad0e"/><stop offset="0.9758" stop-color="#67b900"/><stop offset="0.9774" stop-color="#5ec400"/><stop offset="0.9790" stop-color="#56d000"/><stop offset="0.9806" stop-color="#4cda00"/><stop offset="0.9822" stop-color="#43e400"/><stop offset="0.9838" stop-color="#3aec00"/><stop offset="0.9853" stop-color="#31f200"/><stop offset="0.9869" stop-color="#28f600"/><stop offset="0.9885" stop-color="#20f900"/><stop offset="0.9901" stop-color="#19fb00"/><stop offset="0.9917" stop-color="#13fc00"/><stop offset="0.9933" stop-color="#0dfd00"/><stop offset="0.9949" stop-color="#09fe00"/><stop offset="0.9964" stop-color="#05fe00"/><stop offset="0.9980" stop-color="#03ff00"/><stop offset="0.9996" stop-color="#01ff00"/></radialGradient><radialGradient id="gO" gradientUnits="userSpaceOnUse" cx="392.00" cy="125.40" r="53.00"><stop offset="0.0000" stop-color="#02ff00"/><stop offset="0.9377" stop-color="#02ff00"/><stop offset="0.9396" stop-color="#03ff00"/><stop offset="0.9415" stop-color="#03ff00"/><stop offset="0.9434" stop-color="#06ff00"/><stop offset="0.9453" stop-color="#0bfe00"/><stop offset="0.9472" stop-color="#13fd00"/><stop offset="0.9491" stop-color="#1cfb00"/><stop offset="0.9509" stop-color="#28f900"/><stop offset="0.9528" stop-color="#32f800"/><stop offset="0.9547" stop-color="#39f700"/><stop offset="0.9566" stop-color="#3ef600"/><stop offset="0.9585" stop-color="#41f500"/><stop offset="0.9604" stop-color="#3ef600"/><stop offset="0.9623" stop-color="#39f700"/><stop offset="0.9642" stop-color="#32f800"/><stop offset="0.9660" stop-color="#28f900"/><stop offset="0.9679" stop-color="#1cfb00"/><stop offset="0.9698" stop-color="#13fd00"/><stop offset="0.9717" stop-color="#0bfe00"/><stop offset="0.9736" stop-color="#06ff00"/><stop offset="0.9755" stop-color="#03ff00"/><stop offset="0.9774" stop-color="#03ff00"/><stop offset="0.9792" stop-color="#02ff00"/><stop offset="1.0000" stop-color="#02ff00"/></radialGradient><filter id="fb" x="-10%" y="-10%" width="120%" height="120%"><feGaussianBlur stdDeviation="0.35"/></filter><linearGradient id="gCB" x1="0" y1="0" x2="0" y2="1"><stop offset="0.000" stop-color="#230ac8"/><stop offset="0.050" stop-color="#143ce6"/><stop offset="0.115" stop-color="#0a6ee6"/><stop offset="0.170" stop-color="#0aa0be"/><stop offset="0.220" stop-color="#0ac896"/><stop offset="0.275" stop-color="#0adc5a"/><stop offset="0.315" stop-color="#00f028"/><stop offset="0.355" stop-color="#00ff00"/><stop offset="0.470" stop-color="#05ff00"/><stop offset="0.550" stop-color="#64f000"/><stop offset="0.615" stop-color="#a0eb00"/><stop offset="0.670" stop-color="#d7e100"/><stop offset="0.710" stop-color="#ebd400"/><stop offset="0.770" stop-color="#f5aa00"/><stop offset="0.820" stop-color="#f56e00"/><stop offset="0.855" stop-color="#f63700"/><stop offset="0.890" stop-color="#fa1400"/><stop offset="1.000" stop-color="#fc0404"/></linearGradient>
<clipPath id="cIn"><circle cx="101" cy="136.9" r="52.4"/></clipPath>
</defs>
<rect width="550" height="266" fill="#fff"/>
<!-- ===== panel (a) ===== -->
<text class="sans" x="5.8" y="22.2" font-size="19.5" fill="#1a1a1a" stroke="#1a1a1a" stroke-width="0.35">(a)</text>
<g fill="none" stroke="#555" stroke-width="0.9">
<path d="M45,71 C46,60 53,49.5 63,48.8 C71,48.5 79,50.5 90,53.5"/>
<path d="M113,53.5 C123,50.5 130,48.5 137,48.8 C146,49.5 153,58 156.6,70.5"/>
<path d="M45,202 C46,212 52,222 61.6,224.3 C70,225 78,223 88,221"/>
<path d="M115,221 C124,223 131,225 139,224.3 C149,222.5 155,213 156.6,202.5"/>
</g>
<ellipse cx="101.4" cy="136.3" rx="70.6" ry="69.9" fill="#fcd41e"/>
<!-- white regions -->
<path fill="#fff" d="M88.5,60 L114.5,60 L114.5,67.6 C117.5,68.6 120,71 122,74.5 C124.5,79.5 126.5,84 127.3,88.6 L128,100 L75,100 L73.3,90.5 C75.5,87.5 77.2,84 78.6,80.8 L81.4,75.2 C83,71.5 85.5,68.6 88.5,67.6 Z"/>
<path fill="#fff" d="M72,176.8 C73,178 73.3,178 73.8,180.9 C75,185.5 77,190 79.6,194.6 C81,197 82.5,199.5 84,201 C85.5,203 86.8,204 88,205 L88,212 L113,212 L113,205.3 C115,203.5 118,201 120.3,198.8 C122.5,195.5 124,192.5 125.5,188.5 C126.5,185.5 127.4,182.5 128,179 L120,170 L80,170 Z"/>
<!-- tabs -->
<g stroke="#4a3c2c" stroke-width="0.9">
<rect x="90.6" y="74.3" width="21.7" height="14" rx="5.5" fill="#fcd41e"/>
<rect x="90.7" y="184" width="20.9" height="14.6" rx="5.5" fill="#fcd41e"/>
<rect x="43.5" y="125.3" width="10" height="22.8" rx="3.5" fill="none"/>
<rect x="148.4" y="125.3" width="10" height="23" rx="3.5" fill="none"/>
</g>
<!-- brown ring -->
<path fill="#5a2a0c" fill-rule="evenodd" d="M15.05,136.6 A86.55 86 0 1 0 188.15,136.6 A86.55 86 0 1 0 15.05,136.6 Z M31.4,136.25 A69.95 69.25 0 1 0 171.3,136.25 A69.95 69.25 0 1 0 31.4,136.25 Z"/>
<g fill="none" stroke="#6a6a6a" stroke-width="0.7"><path d="M86.5,68.9 Q101.4,66.1 116.5,68.9"/><path d="M87,204 Q101.4,206.6 115,204"/></g>
<!-- light blue disc -->
<circle cx="101" cy="136.9" r="52.4" fill="#ccedf7"/>
<!-- bumps -->
<g fill="#fff" clip-path="url(#cIn)">
<path d="M127.3,88.6 C127.8,93 128,96.5 130,98.5 C131.8,99.8 134.3,99.3 136,97 C137.5,94.8 138.3,92.5 139,90 L139,85 L127,85 Z"/>
<path d="M63.5,181.8 C63.8,178 64.5,176 66,174.6 C67.5,173.5 69.5,173.6 71,174.8 C72.5,176 73.3,178 73.8,180.9 L73.8,190 L63.5,190 Z"/>
<path d="M128,179 C128.6,176 129.5,174.5 131.2,173.7 C133.5,173 135.8,174.5 137.3,177.2 C138.2,180 138.5,182 138.6,184 L128,184 Z"/>
</g>
<!-- thin lines -->
<g fill="none" stroke="#4a3c2c" stroke-width="0.85">
<path d="M88.5,67.6 C85.5,68.6 83,71.5 81.4,75.2 L78.6,80.8 C77.2,84 75.5,87.5 73.3,90.5"/>
<path d="M114.5,67.6 C117.5,68.6 120,71 122,74.5 C124.5,79.5 126.5,84 127.3,88.6 C127.8,93 128,96.5 130,98.5 C131.8,99.8 134.3,99.3 136,97 C137.5,94.8 138.3,92.5 139,90 C139.3,87.5 139.3,85 142.3,81"/>
<path d="M59.8,80.3 C61.5,82 62.6,84.5 62.8,89.3 C63,91.5 64.2,93.5 66,94.5 C67,95 68,95.2 69,95.3"/>
<path d="M46.3,93 C48.5,98 51,103.5 52.2,108.5 C52.8,111.5 53,114 53,116.8"/>
<path d="M156,94.6 C154.5,98 153,102 152.1,106 C151.3,109.5 150.5,111.5 149.8,114"/>
<path d="M49.5,150 C50.5,154 51,158 50.8,161.3 C50.3,166 48,172 46.5,180"/>
<path d="M150.6,156 C151.5,161 152,166 152.9,169.5 C153.8,173 154.8,176.5 155.9,179.3"/>
<path d="M61.2,193 C62,190 63,186 63.5,181.8 C63.8,178 64.5,176 66,174.6 C67.5,173.5 69.5,173.6 71,174.8 C72.5,176 73.3,178 73.8,180.9 C75,185.5 77,190 79.6,194.6 C81,197 82.5,199.5 84,201 C85.5,203 86.8,204 88,205"/>
<path d="M113,205.3 C115,203.5 118,201 120.3,198.8 C122.5,195.5 124,192.5 125.5,188.5 C126.5,185.5 127.4,182.5 128,179 C128.6,176 129.5,174.5 131.2,173.7 C133.5,173 135.8,174.5 137.3,177.2 C138.2,180 138.8,184 139.2,188.5 C139.8,190.5 140.5,192 141.8,193.3"/>
</g>
<!-- medium blue region -->
<path d="M53.1,141.1 L90.1,137.8 A11.1 11.1 0 0 0 112.3,137.8 L149.5,141.3 A48.45 48.45 0 0 1 53.1,141.1 Z" fill="#73d8eb" stroke="#3c3c3c" stroke-width="0.8"/>
<!-- cross lines -->
<g stroke="#806a58" stroke-width="1.1">
<line x1="31.5" y1="136.8" x2="171.2" y2="136.8"/>
<line x1="101.45" y1="67.5" x2="101.45" y2="205.6"/>
</g>
<!-- red dashed circle -->
<circle cx="101" cy="136.9" r="52.7" fill="none" stroke="#ee1c24" stroke-width="3" stroke-dasharray="5.3 2.584" stroke-dashoffset="-0.2"/>

<!-- separator -->
<line x1="217.9" y1="16" x2="217.9" y2="257" stroke="#7c7c7c" stroke-width="1.6"/>

<!-- ===== panel (b) ===== -->
<text class="sans" x="248.3" y="22.2" font-size="19.5" fill="#1a1a1a" stroke="#1a1a1a" stroke-width="0.35">(b)</text>
<rect x="300.9" y="35.4" width="181.9" height="180.4" fill="#00ff00"/>
<g><circle cx="392.00" cy="125.40" r="52.60" fill="url(#gU)"/><clipPath id="cLow"><path d="M339.53,134.17 L381.50,127.60 L402.50,127.60 L444.47,134.17 A53.20 53.20 0 0 1 339.53,134.17 Z"/></clipPath><path clip-path="url(#cLow)" fill-rule="evenodd" d="M338.80,125.40 a53.2 53.2 0 1 0 106.4 0 a53.2 53.2 0 1 0 -106.4 0 Z M345.50,125.40 a46.5 46.5 0 1 0 93 0 a46.5 46.5 0 1 0 -93 0 Z" fill="url(#gO)"/><path d="M345.02,133.31 L381.50,127.60 L402.50,127.60 L438.98,133.31 A47.40 47.40 0 0 1 345.02,133.31 Z" fill="url(#gL)"/></g>
<line x1="300.7" y1="35.4" x2="300.7" y2="216.6" stroke="#333" stroke-width="0.8"/>
<line x1="300.4" y1="216.25" x2="478" y2="216.25" stroke="#111" stroke-width="1"/>
<line x1="478" y1="216.25" x2="482.8" y2="216.25" stroke="#777" stroke-width="1"/>
<g class="mono" font-size="8.8" fill="#333" stroke="#333" stroke-width="0.1">
<text x="296" y="38.5" text-anchor="end">5.0</text>
<text x="296" y="129" text-anchor="end">0</text>
<text x="296" y="218.6" text-anchor="end">-5.0</text>
<text x="301.4" y="229.3" text-anchor="middle">-5.0</text>
<text x="392" y="229" text-anchor="middle">0</text>
<text x="482.7" y="229.3" text-anchor="middle">5.0</text>
</g>
<g class="mono" font-size="10.25" fill="#1a1a1a" stroke="#1a1a1a" stroke-width="0.3">
<text x="338.2" y="242.7">X coordinate value</text>
<text transform="translate(264,125.5) rotate(-90)" text-anchor="middle">Y coordinate value</text>
</g>
<!-- colorbar -->
<text class="sans" x="497.6" y="43.8" font-size="9.2" fill="#222" stroke="#222" stroke-width="0.2">Phase</text>
<rect x="497.3" y="50.5" width="16.2" height="125.7" fill="url(#gCB)"/>
<g class="mono" font-size="9" fill="#2a2a2a" stroke="#2a2a2a" stroke-width="0.2" letter-spacing="-0.2">
<text x="515.0" y="53.7">3.14</text>
<text x="515.0" y="66.3">2.51</text>
<text x="515.0" y="78.8">1.88</text>
<text x="515.0" y="91.4">1.26</text>
<text x="515.0" y="103.9">0.63</text>
<text x="515.0" y="116.5">0.00</text>
<text x="515.0" y="129.1">-0.63</text>
<text x="515.0" y="141.6">-1.26</text>
<text x="515.0" y="154.2">-1.88</text>
<text x="515.0" y="166.7">-2.51</text>
<text x="515.0" y="179.3">-3.14</text>
</g>
<text class="mono" x="515.3" y="193.4" font-size="7.2" fill="#2a2a2a" stroke="#2a2a2a" stroke-width="0.15">radians</text>
</svg>
</body></html>
